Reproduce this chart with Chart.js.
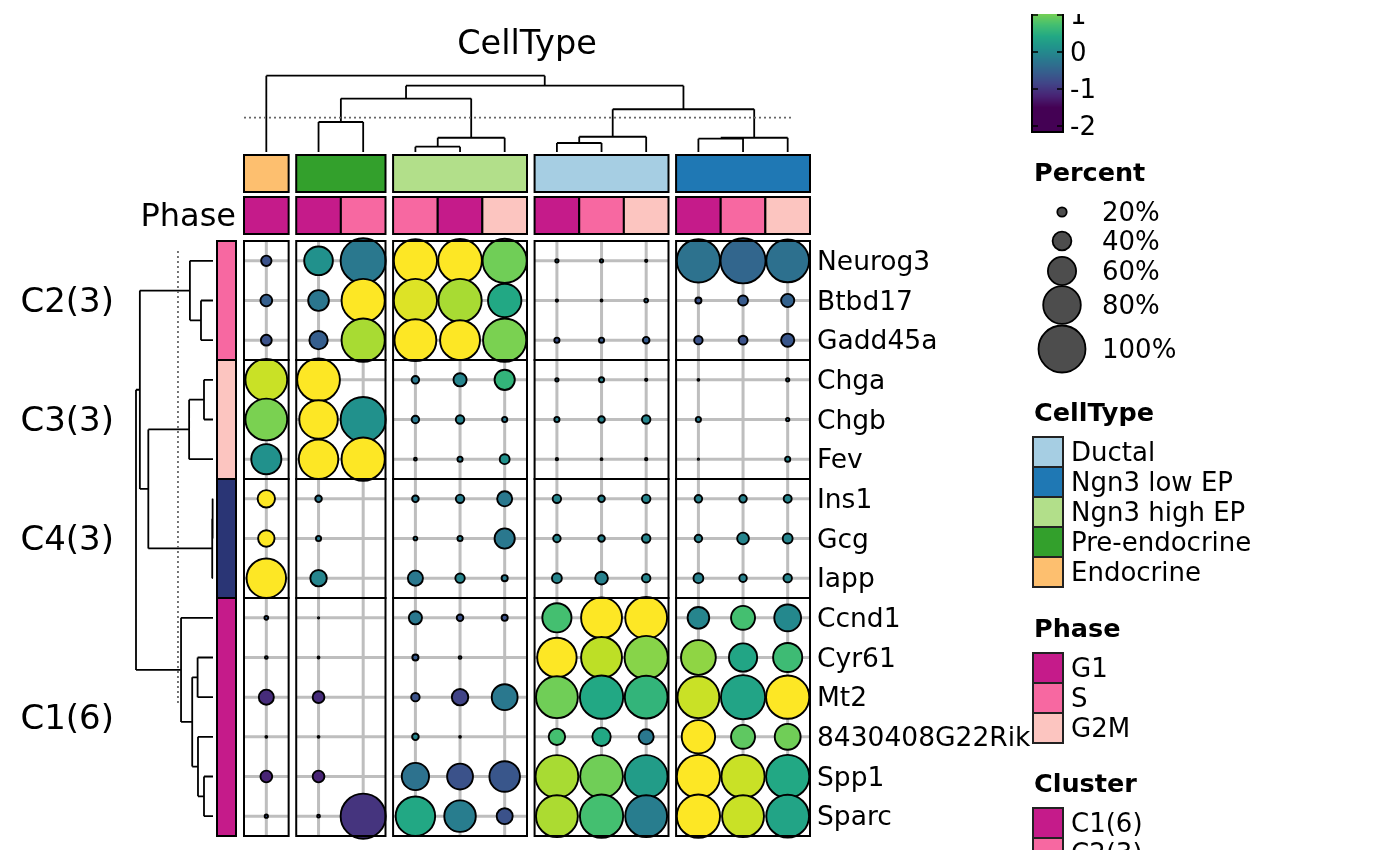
<!DOCTYPE html>
<html>
<head>
<meta charset="utf-8">
<script src="https://cdn.jsdelivr.net/npm/chart.js@4.4.1/dist/chart.umd.min.js"></script>
<style>
  html, body { margin: 0; padding: 0; background: #fff; }
  canvas { display: block; }
</style>
</head>
<body>
<canvas id="dotplot" width="1400" height="866"></canvas>
<script>
// rows (genes), top to bottom
const genes = ['Neurog3', 'Btbd17', 'Gadd45a', 'Chga', 'Chgb', 'Fev', 'Ins1', 'Gcg', 'Iapp',
  'Ccnd1', 'Cyr61', 'Mt2', '8430408G22Rik', 'Spp1', 'Sparc'];
const clusterNames = ['C2(3)', 'C3(3)', 'C4(3)', 'C1(6)'];
const clusterSizes = [3, 3, 3, 6];
const clusterColors = { 'C1(6)': '#c51b8a', 'C2(3)': '#f768a1', 'C3(3)': '#fcc5c0', 'C4(3)': '#2a3575' };

// columns, left to right
const cellTypes = ['Endocrine', 'Pre-endocrine', 'Ngn3 high EP', 'Ductal', 'Ngn3 low EP'];
const cellTypeSizes = [1, 2, 3, 3, 3];
const cellTypeColors = { 'Ductal': '#a6cee3', 'Ngn3 low EP': '#1f78b4', 'Ngn3 high EP': '#b2df8a',
  'Pre-endocrine': '#33a02c', 'Endocrine': '#fdbf6f' };
const colPhases = ['G1', 'G1', 'S', 'S', 'G1', 'G2M', 'G1', 'S', 'G2M', 'G1', 'S', 'G2M'];
const phaseColors = { 'G1': '#c51b8a', 'S': '#f768a1', 'G2M': '#fcc5c0' };

// percent of cells expressing (dot size)
const percent = [
  [22, 61, 96, 92, 93, 94, 7, 7, 5, 92, 96, 91],
  [25, 44, 92, 92, 92, 71, 5, 4, 8, 13, 21, 28],
  [23, 39, 92, 89, 85, 92, 11, 11, 14, 18, 19, 28],
  [89, 91, 0, 16, 28, 43, 7, 11, 5, 4, 0, 7],
  [89, 82, 96, 16, 18, 11, 11, 14, 18, 11, 0, 7],
  [64, 84, 92, 6, 11, 21, 5, 4, 5, 3, 0, 11],
  [37, 14, 0, 14, 18, 32, 18, 14, 18, 16, 16, 17],
  [35, 11, 0, 8, 11, 43, 16, 14, 18, 16, 25, 21],
  [84, 35, 0, 32, 20, 13, 21, 27, 18, 21, 16, 18],
  [8, 3, 0, 28, 14, 13, 62, 87, 89, 46, 51, 57],
  [6, 4, 0, 13, 6, 0, 84, 87, 92, 74, 60, 62],
  [32, 25, 0, 18, 35, 55, 89, 92, 91, 89, 94, 92],
  [4, 4, 0, 14, 4, 0, 35, 39, 32, 71, 51, 55],
  [25, 25, 0, 58, 55, 65, 91, 91, 91, 92, 92, 92],
  [7, 6, 96, 84, 67, 34, 89, 92, 89, 92, 89, 91]
];

// scaled expression (dot colour)
const zscore = [
  [-0.7, 0.1, -0.22, 1.8, 1.8, 1.0, -0.3, -0.3, -0.3, -0.3, -0.45, -0.32],
  [-0.54, -0.25, 1.8, 1.54, 1.28, 0.42, -0.4, -0.4, -0.4, -0.7, -0.6, -0.5],
  [-0.7, -0.55, 1.28, 1.8, 1.8, 1.06, -0.7, -0.6, -0.6, -0.7, -0.7, -0.65],
  [1.44, 1.8, 0, -0.22, -0.06, 0.58, -0.3, -0.1, -0.3, -0.3, 0, -0.3],
  [1.06, 1.8, 0.1, -0.22, -0.1, -0.22, -0.1, -0.1, -0.06, -0.2, 0, -0.3],
  [0.1, 1.8, 1.8, -0.3, -0.2, 0.1, -0.3, -0.3, -0.3, -0.3, 0, -0.06],
  [1.8, -0.22, 0, -0.2, -0.15, -0.22, -0.06, -0.1, -0.06, -0.1, -0.1, -0.06],
  [1.8, -0.2, 0, -0.2, -0.15, -0.22, -0.06, -0.1, -0.06, -0.1, -0.06, -0.06],
  [1.8, -0.06, 0, -0.22, -0.06, -0.2, -0.06, -0.1, -0.06, -0.1, -0.1, -0.06],
  [-0.5, -0.5, 0, -0.22, -0.7, -0.7, 0.74, 1.8, 1.8, -0.06, 0.74, -0.02],
  [-0.5, -0.5, 0, -0.6, -0.5, 0, 1.8, 1.38, 1.12, 1.16, 0.38, 0.68],
  [-1.1, -1.1, 0, -0.7, -0.86, -0.22, 1.0, 0.42, 0.58, 1.44, 0.36, 1.8],
  [-0.5, -0.5, 0, -0.06, -0.5, 0, 0.74, 0.42, -0.22, 1.8, 0.9, 1.0],
  [-1.18, -1.18, 0, -0.3, -0.7, -0.65, 1.28, 1.0, 0.26, 1.75, 1.44, 0.42],
  [-0.7, -0.9, -1.02, 0.42, -0.15, -0.7, 1.3, 0.74, -0.15, 1.8, 1.44, 0.36]
];

// dendrograms, hclust style: negative = leaf, positive = earlier merge (1-based), then height
const colMerges = [
  [-4, -5, 0.07], [1, -6, 0.187], [-2, -3, 0.393], [3, 2, 0.70],
  [-7, -8, 0.118], [5, -9, 0.20], [-10, -11, 0.174], [7, -12, 0.187],
  [6, 8, 0.56], [4, 9, 0.869], [-1, 10, 1.0]
];
const rowMerges = [
  [-2, -3, 0.156], [-1, 1, 0.30], [-4, -5, 0.117], [3, -6, 0.31],
  [-7, -8, 0.005], [5, -9, 0.01], [4, 6, 0.84], [2, 7, 0.95],
  [-14, -15, 0.117], [-13, 9, 0.195], [-11, -12, 0.2], [11, 10, 0.27],
  [-10, 12, 0.415], [8, 13, 1.0]
];
const colCut = 0.45;
const rowCut = 0.455;

// legends
const colorTicks = [-2, -1, 0, 1];
const sizeBreaks = [20, 40, 60, 80, 100];
const legendCellTypes = ['Ductal', 'Ngn3 low EP', 'Ngn3 high EP', 'Pre-endocrine', 'Endocrine'];
const legendPhases = ['G1', 'S', 'G2M'];
const legendClusters = ['C1(6)', 'C2(3)', 'C3(3)', 'C4(3)'];

// ---- helpers ----
const FONT = '"DejaVu Sans", "Liberation Sans", sans-serif';
const GAP = 0.17;               // gap between column slices (in column units)
const viridis = ['#440154', '#482475', '#414487', '#355f8d', '#2a788e', '#21918c',
  '#22a884', '#44bf70', '#7ad151', '#bddf26', '#fde725'];
const Z_LO = -1.5, Z_HI = 1.7;

function hexRgb(h) { return [1, 3, 5].map(i => parseInt(h.slice(i, i + 2), 16)); }
function colorFor(v) {
  let t = (v - Z_LO) / (Z_HI - Z_LO);
  t = Math.max(0, Math.min(1, t)) * (viridis.length - 1);
  const i = Math.min(Math.floor(t), viridis.length - 2), f = t - i;
  const a = hexRgb(viridis[i]), b = hexRgb(viridis[i + 1]);
  return 'rgb(' + a.map((c, k) => Math.round(c + (b[k] - c) * f)).join(',') + ')';
}
function dotRadius(p) { return p * 0.235; }

const panelOf = [];
cellTypeSizes.forEach((n, p) => { for (let k = 0; k < n; k++) panelOf.push(p); });
const colX = panelOf.map((p, c) => c + 0.5 + GAP * p);
const panels = [];
let acc = 0;
cellTypeSizes.forEach((n, p) => { panels.push({ start: acc, end: acc + n, x0: acc + GAP * p, x1: acc + n + GAP * p }); acc += n; });
const slices = [];
acc = 0;
clusterSizes.forEach(n => { slices.push({ start: acc, end: acc + n }); acc += n; });

const points = [], fills = [];
genes.forEach((g, r) => {
  colX.forEach((x, c) => {
    if (percent[r][c] <= 0) return;
    points.push({ x: x, y: r + 0.5, r: dotRadius(percent[r][c]) });
    fills.push(colorFor(zscore[r][c]));
  });
});

function drawDendro(ctx, merges, leafPos, hPix, vertical) {
  const pos = [], hs = [];
  const get = i => i < 0 ? [leafPos(-i - 1), 0] : [pos[i - 1], hs[i - 1]];
  ctx.beginPath();
  merges.forEach(([a, b, h]) => {
    const [pa, ha] = get(a), [pb, hb] = get(b);
    const seg = (p1, h1, p2, h2) => {
      if (vertical) { ctx.moveTo(p1, hPix(h1)); ctx.lineTo(p2, hPix(h2)); }
      else { ctx.moveTo(hPix(h1), p1); ctx.lineTo(hPix(h2), p2); }
    };
    seg(pa, ha, pa, h); seg(pa, h, pb, h); seg(pb, h, pb, hb);
    pos.push((pa + pb) / 2); hs.push(h);
  });
  ctx.stroke();
}

// y is the visual centre of the text
function text(ctx, s, x, y, size, align, bold) {
  ctx.font = (bold ? 'bold ' : '') + size + 'px ' + FONT;
  ctx.textAlign = align; ctx.textBaseline = 'middle'; ctx.fillStyle = '#000';
  ctx.fillText(s, x, y + size * 0.09);
}

const decor = {
  id: 'decor',
  beforeDatasetsDraw(chart) {
    const { ctx, scales: { x, y } } = chart;
    ctx.save();
    ctx.strokeStyle = '#bebebe'; ctx.lineWidth = 3;
    panels.forEach(p => slices.forEach(s => {
      const xl = x.getPixelForValue(p.x0), xr = x.getPixelForValue(p.x1);
      const yt = y.getPixelForValue(s.start), yb = y.getPixelForValue(s.end);
      ctx.beginPath();
      for (let r = s.start; r < s.end; r++) { const py = y.getPixelForValue(r + 0.5); ctx.moveTo(xl, py); ctx.lineTo(xr, py); }
      for (let c = p.start; c < p.end; c++) { const px = x.getPixelForValue(colX[c]); ctx.moveTo(px, yt); ctx.lineTo(px, yb); }
      ctx.stroke();
    }));
    ctx.restore();
  },
  afterDatasetsDraw(chart) {
    const { ctx, scales: { x, y } } = chart;
    ctx.save();
    // slice borders
    ctx.strokeStyle = '#000'; ctx.lineWidth = 2;
    panels.forEach(p => slices.forEach(s => {
      const xl = x.getPixelForValue(p.x0), xr = x.getPixelForValue(p.x1);
      const yt = y.getPixelForValue(s.start), yb = y.getPixelForValue(s.end);
      ctx.strokeRect(xl, yt, xr - xl, yb - yt);
    }));
    // top annotations
    panels.forEach((p, i) => {
      const xl = x.getPixelForValue(p.x0), xr = x.getPixelForValue(p.x1);
      ctx.fillStyle = cellTypeColors[cellTypes[i]];
      ctx.fillRect(xl, 155, xr - xl, 37); ctx.strokeRect(xl, 155, xr - xl, 37);
    });
    colX.forEach((cx, c) => {
      const xl = x.getPixelForValue(cx - 0.5), xr = x.getPixelForValue(cx + 0.5);
      ctx.fillStyle = phaseColors[colPhases[c]];
      ctx.fillRect(xl, 197, xr - xl, 37); ctx.strokeRect(xl, 197, xr - xl, 37);
    });
    // cluster bar
    slices.forEach((s, i) => {
      const yt = y.getPixelForValue(s.start), yb = y.getPixelForValue(s.end);
      ctx.fillStyle = clusterColors[clusterNames[i]];
      ctx.fillRect(217, yt, 19, yb - yt); ctx.strokeRect(217, yt, 19, yb - yt);
      text(ctx, clusterNames[i], 114, (yt + yb) / 2, 34, 'right');
    });
    // dendrograms
    ctx.strokeStyle = '#000'; ctx.lineWidth = 1.8;
    drawDendro(ctx, colMerges, i => x.getPixelForValue(colX[i]), h => 152 - h * 76.3, true);
    drawDendro(ctx, rowMerges, i => y.getPixelForValue(i + 0.5), h => 213 - h * 77, false);
    ctx.strokeStyle = '#666'; ctx.lineWidth = 1.8; ctx.setLineDash([2, 3]);
    ctx.beginPath();
    ctx.moveTo(244, 152 - colCut * 76.3); ctx.lineTo(791, 152 - colCut * 76.3);
    ctx.moveTo(213 - rowCut * 77, 251); ctx.lineTo(213 - rowCut * 77, 703);
    ctx.stroke(); ctx.setLineDash([]);
    // labels
    genes.forEach((g, r) => text(ctx, g, 817, y.getPixelForValue(r + 0.5), 26.5, 'left'));
    text(ctx, 'CellType', 527, 42, 33.5, 'center');
    text(ctx, 'Phase', 236, 215, 32, 'right');
    ctx.restore();

    // legends (clipped like the original viewport)
    ctx.save();
    ctx.beginPath(); ctx.rect(1000, 14, 400, 836); ctx.clip();
    const vy = v => 52 - 37 * v;
    for (let py = 13; py < 132; py++) { ctx.fillStyle = colorFor((52 - py - 0.5) / 37); ctx.fillRect(1032, py, 31, 1); }
    ctx.strokeStyle = '#000'; ctx.lineWidth = 1.5;
    ctx.beginPath();
    colorTicks.forEach(t => { ctx.moveTo(1032, vy(t)); ctx.lineTo(1038, vy(t)); ctx.moveTo(1057, vy(t)); ctx.lineTo(1063, vy(t)); });
    ctx.stroke();
    ctx.lineWidth = 2; ctx.strokeRect(1032, 12, 31, 120);
    colorTicks.forEach(t => text(ctx, String(t), 1070, vy(t), 26, 'left'));

    text(ctx, 'Percent', 1034, 172, 25.5, 'left', true);
    const sizeY = [212, 241, 271, 305, 349];
    sizeBreaks.forEach((p, i) => {
      ctx.beginPath(); ctx.arc(1062, sizeY[i], dotRadius(p), 0, Math.PI * 2);
      ctx.fillStyle = '#4d4d4d'; ctx.fill(); ctx.lineWidth = 1.8; ctx.stroke();
      text(ctx, p + '%', 1102, sizeY[i], 26, 'left');
    });
    const keyBlock = (title, ty, items, colors) => {
      text(ctx, title, 1034, ty, 25.5, 'left', true);
      items.forEach((it, i) => {
        const top = ty + 25 + i * 30;
        ctx.fillStyle = colors[it]; ctx.fillRect(1033, top, 30, 30);
        ctx.lineWidth = 2; ctx.strokeStyle = '#222'; ctx.strokeRect(1033, top, 30, 30);
        text(ctx, it, 1071, top + 15, 26, 'left');
      });
    };
    keyBlock('CellType', 412, legendCellTypes, cellTypeColors);
    keyBlock('Phase', 628, legendPhases, phaseColors);
    keyBlock('Cluster', 783, legendClusters, clusterColors);
    ctx.restore();
  }
};

new Chart(document.getElementById('dotplot').getContext('2d'), {
  type: 'bubble',
  data: {
    datasets: [{
      data: points,
      backgroundColor: fills,
      borderColor: '#000',
      borderWidth: 1.9,
      clip: false
    }]
  },
  options: {
    responsive: false,
    animation: false,
    devicePixelRatio: 1,
    events: [],
    layout: { padding: { left: 244, right: 590, top: 241, bottom: 30 } },
    scales: {
      x: { type: 'linear', min: 0, max: 12 + 4 * GAP, display: false },
      y: { type: 'linear', min: 0, max: genes.length, reverse: true, display: false }
    },
    plugins: { legend: { display: false }, tooltip: { enabled: false } }
  },
  plugins: [decor]
});
</script>
</body>
</html>
